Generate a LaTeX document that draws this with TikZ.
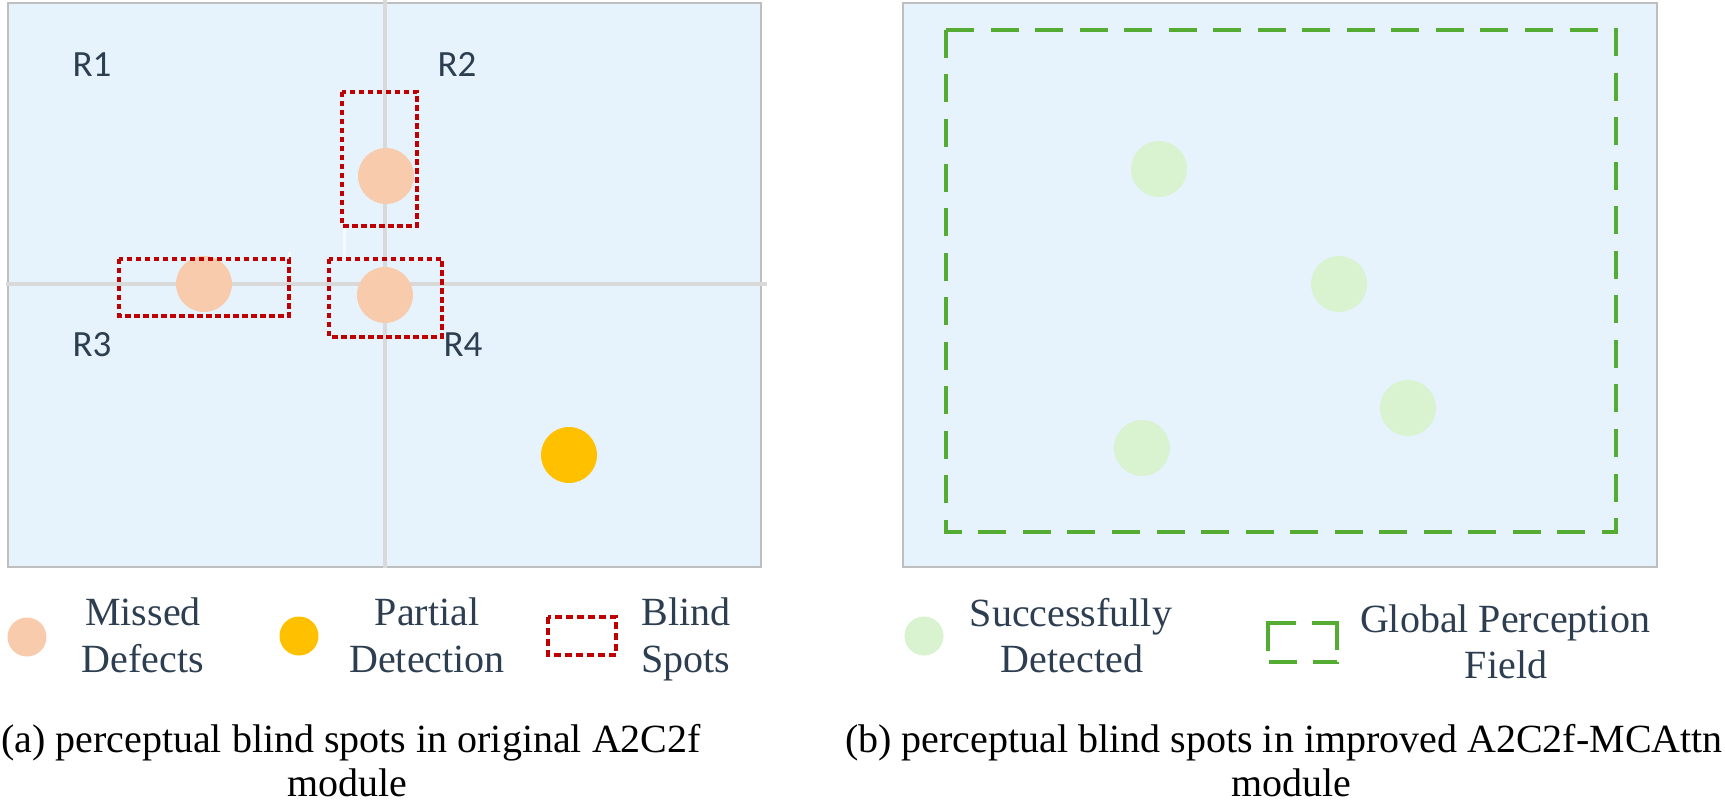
\documentclass[tikz,border=0pt]{standalone}
\usepackage{fontspec}
\setmainfont{Liberation Serif}
\newfontfamily\carlito{Carlito}
\definecolor{panelfill}{RGB}{231,243,252}
\definecolor{panelborder}{RGB}{191,191,191}
\definecolor{gridgray}{RGB}{217,217,217}
\definecolor{missedc}{RGB}{248,203,173}
\definecolor{partialc}{RGB}{255,192,0}
\definecolor{blindred}{RGB}{192,0,0}
\definecolor{okgreen}{RGB}{217,242,208}
\definecolor{fieldgreen}{RGB}{84,172,50}
\definecolor{labeltext}{RGB}{44,62,80}
\begin{document}
\begin{tikzpicture}[x=1pt,y=-1pt,
  panel/.style={draw=panelborder, line width=2.5pt, fill=panelfill},
  gridline/.style={draw=gridgray, line width=4pt},
  faintline/.style={draw=white, line width=3pt, opacity=0.6},
  spot/.style={circle, inner sep=0pt, minimum size=56pt},
  keyspot/.style={circle, inner sep=0pt, minimum size=39pt},
  blindbox/.style={draw=blindred, line width=3.5pt, dash pattern=on 5.5pt off 3.5pt},
  blindkey/.style={draw=blindred, line width=3.5pt, dash pattern=on 7pt off 4pt},
  fieldbox/.style={draw=fieldgreen, line width=4pt, dash pattern=on 28pt off 16.54pt},
  fieldkey/.style={draw=fieldgreen, line width=4pt,
    dash pattern=on 56pt off 16pt on 52pt off 12pt on 24pt off 16pt on 28pt off 12pt},
  rlabel/.style={anchor=base, inner sep=0pt, text=labeltext,
    font=\carlito\fontsize{37}{44}\selectfont},
  keytext/.style={anchor=base, inner sep=0pt, text=labeltext,
    font=\fontsize{40}{47}\selectfont},
  captext/.style={anchor=base, inner sep=0pt, text=black,
    font=\fontsize{40}{47}\selectfont}
]
\useasboundingbox (0,0) rectangle (1725,802);

% ---------- panel (a) ----------
\draw[panel] (8,3) rectangle (761,567);
\coordinate (vtop) at (385,0);
\coordinate (vbot) at (385,568);
\coordinate (hleft) at (6,284);
\coordinate (hright) at (767,284);
\draw[gridline] (vtop) -- (vbot);
\draw[gridline] (hleft) -- (hright);
\coordinate (fa1) at (344,227);
\coordinate (fa2) at (344,258);
\coordinate (fb1) at (289,252);
\coordinate (fb2) at (289,259);
\draw[faintline] (fa1) -- (fa2);
\draw[faintline] (fb1) -- (fb2);

\node[rlabel] (r1) at (92,77) {R1};
\node[rlabel] (r2) at (457,77) {R2};
\node[rlabel] (r3) at (92,356) {R3};
\node[rlabel] (r4) at (463,356) {R4};

\node[spot, fill=missedc] (m1) at (386,176) {};
\node[spot, fill=missedc] (m2) at (204,284) {};
\node[spot, fill=missedc] (m3) at (385,295) {};
\node[spot, fill=partialc] (p1) at (569,455) {};

\draw[blindbox] (342,92) rectangle (417,226);
\draw[blindbox] (119,259) rectangle (289,316);
\draw[blindbox] (329,259) rectangle (442,337);

% legend (a)
\node[keyspot, fill=missedc] (kmissed) at (27,637) {};
\node[keytext] (tmissed1) at (143,625) {Missed};
\node[keytext] (tmissed2) at (143,672) {Defects};
\node[keyspot, fill=partialc] (kpartial) at (299,636) {};
\node[keytext] (tpartial1) at (427,625) {Partial};
\node[keytext] (tpartial2) at (427,672) {Detection};
\draw[blindkey] (548,617) rectangle (616,655);
\node[keytext] (tblind1) at (686,625) {Blind};
\node[keytext] (tblind2) at (686,672) {Spots};

\node[captext] (capa1) at (351,752) {(a) perceptual blind spots in original A2C2f};
\node[captext] (capa2) at (347,796) {module};

% ---------- panel (b) ----------
\draw[panel] (903,3) rectangle (1657,567);
\draw[fieldbox] (946,30) -- (1616,30) -- (1616,532) -- (946,532) -- cycle;

\node[spot, fill=okgreen] (g1) at (1159,169) {};
\node[spot, fill=okgreen] (g2) at (1339,284) {};
\node[spot, fill=okgreen] (g3) at (1408,408) {};
\node[spot, fill=okgreen] (g4) at (1142,448) {};

% legend (b)
\node[keyspot, fill=okgreen] (kok) at (924,636) {};
\node[keytext] (tok1) at (1071,626) {Successfully};
\node[keytext] (tok2) at (1072,672) {Detected};
\draw[fieldkey] (1268,651) -- (1268,623) -- (1337,623) -- (1337,662) -- (1268,662) -- (1268,651);
\node[keytext] (tfield1) at (1505,632) {Global Perception};
\node[keytext] (tfield2) at (1506,678) {Field};

\node[captext] (capb1) at (1284,752) {(b) perceptual blind spots in improved A2C2f-MCAttn};
\node[captext] (capb2) at (1291,796) {module};
\end{tikzpicture}
\end{document}
